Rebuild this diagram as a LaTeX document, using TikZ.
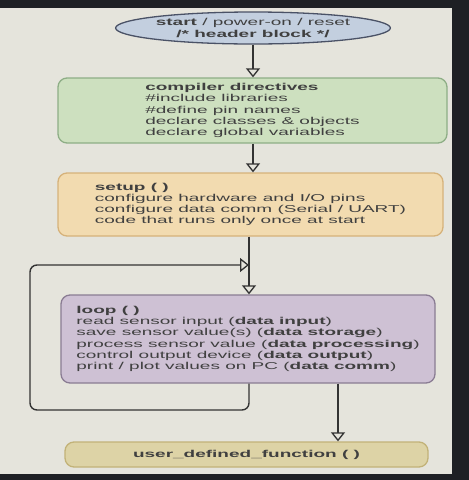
\documentclass[tikz,border=0pt]{standalone}
\usepackage{fontspec}
\setmainfont{Liberation Sans}[FakeStretch=1.9]
\usetikzlibrary{arrows.meta,shapes.geometric}
\definecolor{bgdark}{HTML}{1E2024}
\definecolor{bglight}{HTML}{E5E4DC}
\definecolor{ellfill}{HTML}{C3CFDF}
\definecolor{elldraw}{HTML}{4A5266}
\definecolor{grfill}{HTML}{CDE0BF}
\definecolor{grdraw}{HTML}{8EAE86}
\definecolor{sefill}{HTML}{F2DBB0}
\definecolor{sedraw}{HTML}{D6B27A}
\definecolor{lofill}{HTML}{CEC1D4}
\definecolor{lodraw}{HTML}{8A7C93}
\definecolor{usfill}{HTML}{DDD3A6}
\definecolor{usdraw}{HTML}{C2B278}
\definecolor{txt}{HTML}{404040}
\definecolor{linec}{HTML}{333333}
\tikzset{
  box/.style={rectangle, rounded corners=9pt, line width=1.3pt, align=left,
    inner sep=0pt, text=txt, font=\fontsize{10}{11.2}\selectfont},
  flow/.style={draw=linec, line width=1.4pt,
    -{Triangle[open, length=9pt, width=14pt, line width=1.3pt]}},
  back/.style={flow, rounded corners=7pt}
}
\begin{document}
\begin{tikzpicture}[x=1pt,y=-1pt]
\useasboundingbox (0,0) rectangle (469,480);
\fill[bgdark] (0,0) rectangle (469,480);
\fill[bglight] (0,8) rectangle (452,474);

\node[ellipse, draw=elldraw, fill=ellfill, line width=1.3pt, minimum width=262pt,
  minimum height=32pt, inner sep=0pt, align=center, text=txt,
  font=\fontsize{10}{11.5}\selectfont] (start) at (253,28)
  {\textbf{start} / power-on / reset\\ \textbf{/* header block */}};

\node[box, draw=grdraw, fill=grfill, minimum width=389pt, minimum height=65pt]
  (comp) at (252.5,110.5)
  {\textbf{compiler directives}\\ \#include libraries\\ \#define pin names\\
   declare classes \& objects\\ declare global variables};

\node[box, draw=sedraw, fill=sefill, minimum width=385pt, minimum height=63pt]
  (setup) at (250.5,204.5)
  {\textbf{setup ( )}\\ configure hardware and I/O pins\\
   configure data comm (Serial / UART)\\ code that runs only once at start};

\node[box, draw=lodraw, fill=lofill, minimum width=374pt, minimum height=88pt]
  (loop) at (248,339)
  {\textbf{loop ( )}\\ read sensor input (\textbf{data input})\\
   save sensor value(s) (\textbf{data storage})\\
   process sensor value (\textbf{data processing})\\
   control output device (\textbf{data output})\\
   print / plot values on PC (\textbf{data comm})};

\node[box, draw=usdraw, fill=usfill, minimum width=363pt, minimum height=25pt,
  align=center] (user) at (246.5,454.5) {\textbf{user\_defined\_function ( )}};

\coordinate (j) at (249,265);
\coordinate (lc) at (30,410);
\coordinate (ex) at (338,400);

\draw[flow] (start.south) -- (comp.north -| start.south);
\draw[flow] (comp.south -| start.south) -- (setup.north -| start.south);
\draw[flow] (setup.south -| j) -- (loop.north -| j);
\draw[back] (loop.south -| j) |- (lc) |- (j);
\draw[flow] (loop.south -| ex) -- (user.north -| ex);
\end{tikzpicture}
\end{document}
